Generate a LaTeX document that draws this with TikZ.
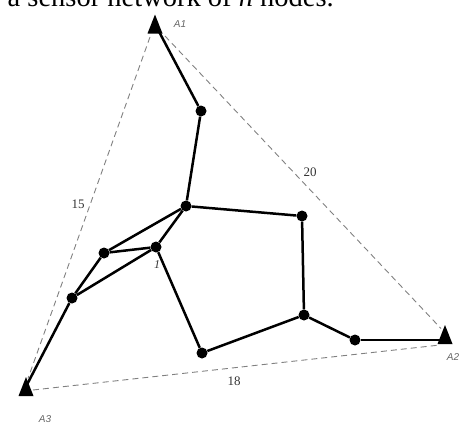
\documentclass[tikz,border=0pt]{standalone}
\usepackage{fontspec}
\setmainfont{Liberation Serif}
\newfontfamily\lblfont{Liberation Sans}
\usetikzlibrary{calc}
\begin{document}
\begin{tikzpicture}[x=1pt,y=-1pt,
 dot/.style={circle,fill=black,inner sep=0pt,minimum size=11pt},
 edge/.style={line width=2.5pt},
 guide/.style={draw=black!50,dash pattern=on 6pt off 4pt,line width=0.9pt},
 dist/.style={font=\fontsize{13}{13}\selectfont,text=black!80,inner sep=0pt},
 anc/.style={font=\lblfont\itshape\fontsize{10}{10}\selectfont,text=black!60,inner sep=0pt},
 tri/.style={fill=black}]
\useasboundingbox (0,0) rectangle (474,447);
\clip (0,0) rectangle (474,447);
\node[anchor=base east,inner sep=0pt,font=\fontsize{28.5}{28.5}\selectfont] (cap) at (334,6.5) {a sensor network of \textit{n} nodes.};
\coordinate (A1) at (155,24);
\coordinate (A2) at (445,334.5);
\coordinate (A3) at (26,386.5);
\node[dot] (n1) at (201,111) {};
\node[dot] (n2) at (186,206) {};
\node[dot] (n3) at (302,216) {};
\node[dot] (n4) at (156,247) {};
\node[dot] (n5) at (104,253) {};
\node[dot] (n6) at (72,298) {};
\node[dot] (n7) at (304,315) {};
\node[dot] (n8) at (355,340) {};
\node[dot] (n9) at (202,353) {};
% dashed guide lines
\draw[guide] ($(A1)+(10,12)$) -- ($(A2)+(-4,-6)$);
\draw[guide] ($(A1)+(-5,13)$) -- ($(A3)+(2,-8)$);
\draw[guide] ($(A3)+(7,3.5)$) -- ($(A2)+(-5,10.5)$);
% edges
\draw[edge] (n1) -- (A1);
\draw[edge] (n1) -- (n2);
\draw[edge] (n2) -- (n3);
\draw[edge] (n3) -- (n7);
\draw[edge] (n7) -- (n9);
\draw[edge] (n7) -- (n8);
\draw[edge] (n8) -- (n8 -| A2);
\draw[edge] (n2) -- (n5);
\draw[edge] (n2) -- (n4);
\draw[edge] (n4) -- (n5);
\draw[edge] (n4) -- (n6);
\draw[edge] (n5) -- (n6);
\draw[edge] (n4) -- (n9);
\draw[edge] (n6) -- (A3);
% anchor triangles
\foreach \a in {A1,A2,A3}{
  \fill[tri] ($(\a)+(-7.5,9.5)$) -- ($(\a)+(0,-9.5)$) -- ($(\a)+(7.5,9.5)$) -- cycle;
}
% labels
\node[anc] (lA1) at (180,24) {A1};
\node[anc] (lA2) at (453,357) {A2};
\node[anc] (lA3) at (45,419) {A3};
\node[dist] (d15) at (78,204) {15};
\node[dist] (d20) at (310,172) {20};
\node[dist] (d18) at (234,381) {18};
\node[dist,font=\itshape\fontsize{12}{12}\selectfont] (l1) at (157,265) {1};
\end{tikzpicture}
\end{document}
